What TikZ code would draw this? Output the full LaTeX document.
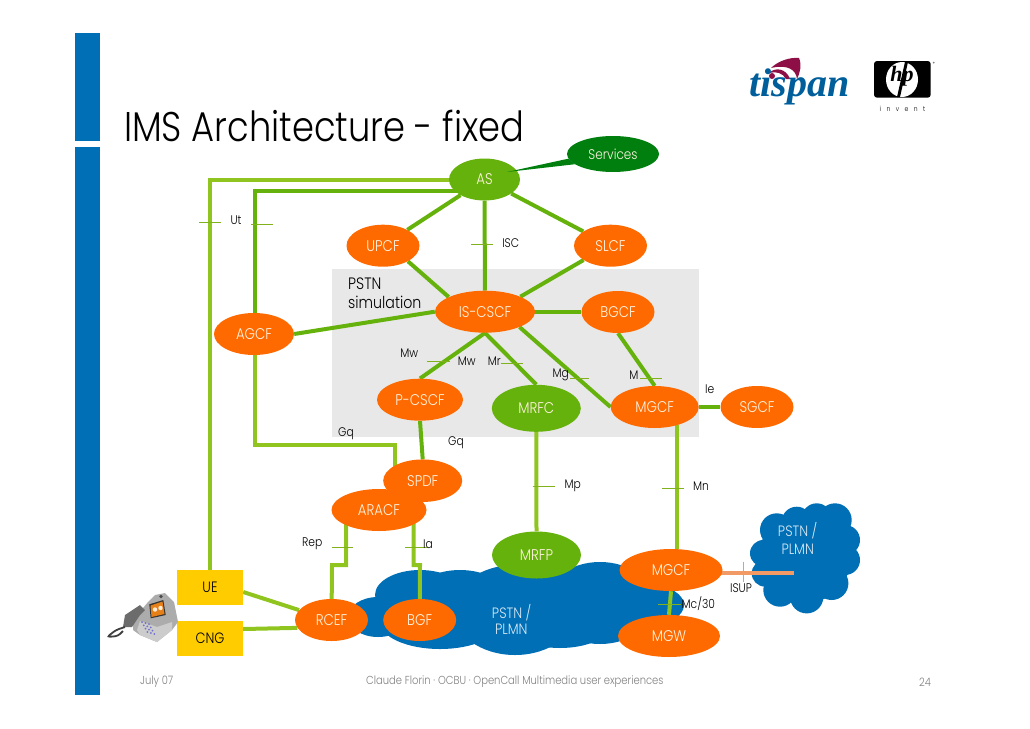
\documentclass[tikz,border=0pt]{standalone}
\usepackage{fontspec}
\setmainfont{Poppins Light}[FakeStretch=0.86]
\newfontfamily\titlefont{Poppins Light}[FakeStretch=0.85]
\newfontfamily\logoserif{Liberation Serif}[Scale=1]
\usetikzlibrary{shapes.geometric,calc}
\definecolor{dkgreen}{HTML}{66B20C}
\definecolor{ltgreen}{HTML}{8FC51E}
\definecolor{ogfill}{HTML}{FF6A00}
\definecolor{bluefill}{HTML}{006FB6}
\definecolor{yell}{HTML}{FFCC00}
\definecolor{svc}{HTML}{007F0F}
\definecolor{txtlight}{HTML}{FFF3E0}
\definecolor{grayarea}{HTML}{E8E8E8}
\definecolor{foot}{HTML}{808080}
\definecolor{isup}{HTML}{F29A66}
\definecolor{maroon}{HTML}{8E0F46}
\pgfdeclarelayer{back}\pgfdeclarelayer{conn}
\pgfsetlayers{back,conn,main}
\newcommand{\fs}[1]{\fontsize{#1}{#1}\selectfont}
\tikzset{
  ell/.style n args={3}{ellipse,inner sep=0pt,minimum width=#1pt,minimum height=#2pt,fill=#3,text=txtlight,font=\fs{15.5}},
  og/.style 2 args={ell={#1}{#2}{ogfill}},
  gr/.style 2 args={ell={#1}{#2}{dkgreen}},
  box/.style={rectangle,inner sep=0pt,minimum width=66pt,minimum height=35pt,fill=yell,text=black,font=\fs{15}},
  thick line/.style={line width=4pt,draw=dkgreen},
  light line/.style={line width=4pt,draw=ltgreen,line join=miter},
  tick/.style={line width=.8pt,draw=ltgreen!90!black},
  lab/.style={inner sep=0pt,text=black,font=\fs{12.5}},
  foot/.style={inner sep=0pt,text=foot,font=\fs{11.6}},
  cloudtxt/.style={inner sep=0pt,text=white!85!bluefill,font=\fs{15},align=center},
}
\begin{document}
\begin{tikzpicture}[x=1pt,y=-1pt]
\useasboundingbox (0,0) rectangle (1030,728);
% bars
\fill[bluefill] (74.5,33) rectangle (99.5,141);
\fill[bluefill] (74.5,147) rectangle (99.5,695);
% title
\node[inner sep=0pt,anchor=base west,font={\titlefont\fs{41.5}}] (title) at (124,141) {IMS Architecture - fixed};
% nodes
\node[gr={71}{42}] (AS) at (484.5,179.5) {AS};
\node[ell={92}{36}{svc},font=\fs{14}] (Services) at (613,154) {Services};
\node[og={73}{42}] (UPCF) at (383,245.7) {UPCF};
\node[og={73}{42}] (SLCF) at (610.5,245.7) {SLCF};
\node[og={100}{42}] (IS) at (485,311.7) {IS-CSCF};
\node[og={73}{42}] (BGCF) at (618,312) {BGCF};
\node[og={80}{42}] (AGCF) at (254,334) {AGCF};
\node[og={86}{42}] (PC) at (420,399.7) {P-CSCF};
\node[gr={89}{47}] (MRFC) at (536.3,408.3) {MRFC};
\node[og={88}{42}] (MGCF) at (654.7,407) {MGCF};
\node[og={73}{42}] (SGCF) at (757,407) {SGCF};
\node[og={79}{42.5}] (SPDF) at (422.7,480.7) {SPDF};
\node[og={95}{42}] (ARACF) at (379,510) {ARACF};
\node[og={73}{42}] (RCEF) at (331.5,620) {RCEF};
\node[og={73}{42}] (BGF) at (419.7,620) {BGF};
\node[gr={89}{47}] (MRFP) at (536.5,555) {MRFP};
\node[og={103}{42}] (MGCFb) at (671,570) {MGCF};
\node[og={102}{42}] (MGW) at (669,636) {MGW};
\node[box] (UE) at (210,587.5) {UE};
\node[box] (CNG) at (210,638.5) {CNG};
% services wedge
\coordinate (tip) at (507,172);
\fill[svc] (tip) -- (Services.186) -- (Services.195) -- cycle;
% background
\begin{pgfonlayer}{back}
  \fill[grayarea] (332,268.5) rectangle (698.7,437);
  \fill[bluefill] (378,617) ellipse [x radius=30,y radius=20];
  \fill[bluefill] (420,595) ellipse [x radius=45,y radius=25];
  \fill[bluefill] (440,622) ellipse [x radius=60,y radius=27];
  \fill[bluefill] (460,590) ellipse [x radius=40,y radius=20];
  \fill[bluefill] (515,610) ellipse [x radius=62,y radius=45];
  \fill[bluefill] (600,603) ellipse [x radius=55,y radius=41];
  \fill[bluefill] (560,590) ellipse [x radius=40,y radius=25];
  \fill[bluefill] (560,625) ellipse [x radius=50,y radius=23];
  \fill[bluefill] (650,605) ellipse [x radius=34,y radius=20];
  \fill[bluefill] (805,557) circle [radius=46];
  \foreach \x/\y/\r in {776.7/530/16.7,796.7/521.7/15,816.7/518.3/15,835/520/16.7,845/540/15,845/560/15,
      831.7/583.3/16.7,806.7/596.7/16.7,780/590/16.7,765/573.3/13.3,763.3/553.3/13.3}
    \fill[bluefill] (\x,\y) circle [radius=\r];
\end{pgfonlayer}
% connectors
\begin{pgfonlayer}{conn}
  \draw[light line] (AS.center |- 0,180) -- (210,180) -- (UE.north -| 210,0);
  \draw[thick line] (AS.center |- 0,191) -- (255,191) -- (AGCF.north -| 255,0);
  \draw[light line] (AGCF.south -| 255,0) -- (255,445) -- (395,445) -- (SPDF.center -| 395,0);
  \draw[thick line] (AS) -- (UPCF);
  \draw[thick line] (AS) -- (IS);
  \draw[thick line] (AS) -- (SLCF);
  \draw[thick line] (UPCF.-32) -- (IS.158);
  \draw[thick line] (IS.23) -- (SLCF.208);
  \draw[thick line] (IS.center |- BGCF.center) -- (BGCF);
  \draw[thick line] (AGCF.east) -- (IS.west);
  \draw[thick line] (IS.south) -- (PC.north);
  \draw[thick line] (IS.south) -- (MRFC.north);
  \draw[thick line] (IS.-24) -- (MGCF.west);
  \draw[thick line] (BGCF.south) -- (MGCF.north);
  \draw[thick line] (MGCF) -- (SGCF);
  \draw[thick line] (PC.south) -- (SPDF.north);
  \draw[light line] (MRFC.south) -- (MRFP.north);
  \draw[light line] (MGCF.-39) -- (MGCF.-39 |- MGCFb.north);
  \draw[light line] (MGCFb.south) -- (MGW.north);
  \draw[light line] (ARACF.center -| 346,0) -- (346,565) -- (332,565) -- (RCEF.center);
  \draw[light line] (ARACF.center -| 413.5,0) -- (413.5,565) -- (420,565) -- (BGF.center);
  \draw[light line] ([yshift=-4.5pt]UE.east) -- (RCEF.163);
  \draw[light line] ([yshift=9.5pt]CNG.east) -- (RCEF.193);
  \coordinate (pstnend) at (794,573.3);
  \draw[line width=4pt,draw=isup] (MGCFb.center |- pstnend) -- (pstnend);
\end{pgfonlayer}
% ticks
\foreach \a/\b/\y in {199/221/222.3,251.3/272.7/224.3,471/492.7/244.7,426.7/450/361.3,500.7/522.7/363.3,
    570/588.7/378.3,640/662/378.3,331.7/353.3/547.3,405/426.7/547.3,532.7/554.7/486.3,662/684/488.3,658.3/680.7/604.3}
  \draw[tick] (\a,\y) -- (\b,\y);
\draw[line width=.8pt,draw=isup] (743.3,561.7) -- (743.3,581.7);
% labels
\node[lab] (lUt) at (236,220) {Ut};
\node[lab] (lISC) at (510.7,243) {ISC};
\node[lab] (lMw) at (409.3,352.7) {Mw};
\node[lab] (lMwb) at (466.7,361) {Mw};
\node[lab] (lMr) at (494.3,361) {Mr};
\node[lab] (lMg) at (560.7,374.7) {Mg};
\node[lab] (lM) at (634,374.7) {M};
\node[lab] (lIe) at (709.7,389.3) {Ie};
\node[lab] (lGq) at (346,434) {Gq};
\node[lab] (lGqb) at (456,442.3) {Gq};
\node[lab] (lRep) at (312.3,544) {Rep};
\node[lab] (lIa) at (428,544) {Ia};
\node[lab] (lMp) at (572.7,486) {Mp};
\node[lab] (lMn) at (701,486) {Mn};
\node[lab] (lMc) at (698.3,603.7) {Mc/30};
\node[lab] (lISUP) at (741,587.7) {ISUP};
\node[inner sep=0pt,anchor=base west,font=\fs{16.5}] (psim) at (348,289) {PSTN};
\node[inner sep=0pt,anchor=base west,font=\fs{16.5}] (psimb) at (348,308.5) {simulation};
\node[cloudtxt] (c1a) at (511.7,612.3) {PSTN /};
\node[cloudtxt] (c1b) at (511.3,629) {PLMN};
\node[cloudtxt] (c2a) at (797.7,530.7) {PSTN /};
\node[cloudtxt] (c2b) at (797.7,549) {PLMN};
% footer
\node[foot] (f1) at (156.7,682) {July 07};
\node[foot,anchor=west] (f2) at (366,682) {Claude Florin · OCBU · OpenCall Multimedia user experiences};
\node[foot] (f3) at (925,682) {24};
% tispan logo
\fill[maroon] (771,68) .. controls (778,61) and (790,57) .. (799,58) .. controls (802,65) and (800,73) .. (797,79) .. controls (796,70) and (788,64) .. (771,68) -- cycle;
\fill[maroon] (769,73) .. controls (775,67) and (786,68) .. (790,79) -- (786,79) .. controls (783,73) and (776,71) .. (769,73) -- cycle;
\fill[maroon] (772,76) circle [radius=3];
\node[inner sep=0pt,anchor=base west,text=bluefill!85!black,font={\logoserif\itshape\bfseries\fontsize{40}{40}\selectfont}] (tispan) at (749,96) {tispan};
% hp logo
\fill[black,rounded corners=3pt] (874,61) rectangle (930.7,97.7);
\fill[white] (902,79.5) ellipse [x radius=16,y radius=17.5];
\node[inner sep=0pt,text=black,font={\logoserif\itshape\bfseries\fontsize{22}{22}\selectfont}] (hp) at (902,76) {hp};
\fill[black] (897,97) -- (900,97) -- (908,62) -- (905,62) -- cycle;
\fill[gray] (933.7,62.7) circle [radius=1];
\node[inner sep=0pt,font=\fs{7}] (inv) at (902.5,108.7) {i\hspace{5.5pt}n\hspace{5.5pt}v\hspace{5.5pt}e\hspace{5.5pt}n\hspace{5.5pt}t};
% phone
\fill[gray!65] (133,620) -- (148,602) -- (155,595) -- (165,593) -- (174,602) -- (178,622) -- (172,630) -- (157,642) -- (140,635) -- (133,630) -- cycle;
\fill[gray!40] (137,630) -- (140,621) -- (157,627) -- (172,622) -- (172,630) -- (157,642) -- (140,635) -- cycle;
\fill[gray!85!black] (125,615) -- (140,605) -- (145,610) -- (140,615) -- (132,627) -- (123,627) -- cycle;
\fill[black!80] (149.3,604.3) -- (163.3,600) -- (165.7,615) -- (150.7,618.3) -- cycle;
\fill[orange!60!brown] (150.5,605.5) -- (162.5,601.5) -- (164.5,614) -- (151.5,617) -- cycle;
\fill[white!85!orange] (155,609.5) circle [radius=2.2];
\fill[white!85!orange] (160.5,608) circle [radius=2.2];
\fill[black!70] (161,596.5) circle [radius=1.8];
\foreach \i in {0,1,2} \foreach \j in {0,1,2,3}
  \fill[blue!50!gray!75] (142+3.5*\i+1.8*\j,622+1*\i+3.3*\j) circle [radius=1];
\draw[black!75,line width=1.8pt,rounded corners=3pt] (125,627) -- (116,630) -- (107,637) -- (118,636) -- (123,631);
\end{tikzpicture}
\end{document}
